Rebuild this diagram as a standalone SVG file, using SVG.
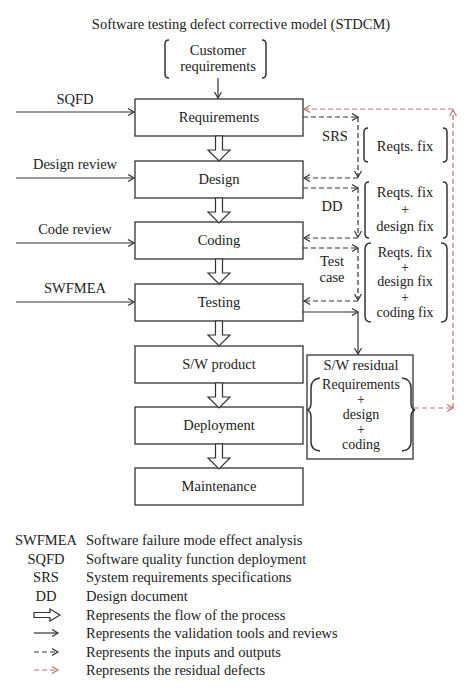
<svg xmlns="http://www.w3.org/2000/svg" width="474" height="696" viewBox="0 0 474 696">
<style>
text{font-family:"Liberation Serif","Times New Roman",serif;font-size:14.5px;fill:#222}
.c{text-anchor:middle}
.s{font-size:14px}
.box{fill:#fff;stroke:#333;stroke-width:1.3}
.ln{fill:none;stroke:#333;stroke-width:1.2}
.dash{fill:none;stroke:#333;stroke-width:1.2;stroke-dasharray:5 3}
.red{fill:none;stroke:#b87474;stroke-width:1.2;stroke-dasharray:5 3}
.brk{fill:none;stroke:#333;stroke-width:1.5}
.blk{fill:#fff;stroke:#333;stroke-width:1.2}
</style>
<defs>
<marker id="ah" markerUnits="userSpaceOnUse" markerWidth="10" markerHeight="10" refX="7" refY="4" orient="auto"><path d="M1,0.5 L7,4 L1,7.5" fill="none" stroke="#333" stroke-width="1.2"/></marker>
<marker id="ahr" markerUnits="userSpaceOnUse" markerWidth="10" markerHeight="10" refX="7" refY="4" orient="auto"><path d="M1,0.5 L7,4 L1,7.5" fill="none" stroke="#b87474" stroke-width="1.2"/></marker>
<path id="barrow" d="M-3.5,0 L3.5,0 L3.5,14 L11,14 L0,25 L-11,14 L-3.5,14 Z"/>
</defs>

<text class="c" x="241" y="29">Software testing defect corrective model (STDCM)</text>

<g id="customer">
<path class="brk" d="M169,40 Q165,40 165,44 L165,74 Q165,78 169,78"/>
<path class="brk" d="M262,40 Q266,40 266,44 L266,74 Q266,78 262,78"/>
<text class="c" x="218" y="55">Customer</text>
<text class="c" x="218" y="71">requirements</text>
</g>

<g id="requirements"><rect class="box" x="135" y="99" width="168" height="37"/><text class="c" x="219" y="122">Requirements</text></g>
<g id="design"><rect class="box" x="135" y="161" width="168" height="37"/><text class="c" x="219" y="184">Design</text></g>
<g id="coding"><rect class="box" x="135" y="222" width="168" height="37"/><text class="c" x="219" y="245">Coding</text></g>
<g id="testing"><rect class="box" x="135" y="284" width="168" height="37"/><text class="c" x="219" y="307">Testing</text></g>
<g id="swproduct"><rect class="box" x="135" y="346" width="168" height="37"/><text class="c" x="219" y="369">S/W product</text></g>
<g id="deployment"><rect class="box" x="135" y="407" width="168" height="37"/><text class="c" x="219" y="430">Deployment</text></g>
<g id="maintenance"><rect class="box" x="135" y="468" width="168" height="37"/><text class="c" x="219" y="491">Maintenance</text></g>

<g id="fix1">
<path class="brk" d="M368,128 Q364,128 364,132 L364,158 Q364,162 368,162"/>
<path class="brk" d="M443,128 Q447,128 447,132 L447,158 Q447,162 443,162"/>
<text class="c" x="405" y="151">Reqts. fix</text>
</g>
<g id="fix2">
<path class="brk" d="M369,182 Q365,182 365,186 L365,234 Q365,238 369,238"/>
<path class="brk" d="M443,182 Q447,182 447,186 L447,234 Q447,238 443,238"/>
<text class="c" x="405" y="197">Reqts. fix</text>
<text class="c" x="405" y="214">+</text>
<text class="c" x="405" y="231">design fix</text>
</g>
<g id="fix3">
<path class="brk" d="M371,243 Q365,243 365,249 L365,316 Q365,322 371,322"/>
<path class="brk" d="M441,243 Q447,243 447,249 L447,316 Q447,322 441,322"/>
<text class="c s" x="405" y="257">Reqts. fix</text>
<text class="c s" x="405" y="272">+</text>
<text class="c s" x="405" y="286">design fix</text>
<text class="c s" x="405" y="302">+</text>
<text class="c s" x="405" y="317">coding fix</text>
</g>

<g id="residual">
<rect class="box" x="307" y="355" width="106" height="104"/>
<text class="c" x="361" y="370">S/W residual</text>
<path class="brk" d="M320,378 Q311,379 311,388 L311,403 Q311,409 307,410 Q311,411 311,417 L311,442 Q311,450 320,451"/>
<path class="brk" d="M402,378 Q411,379 411,388 L411,403 Q411,409 415,410 Q411,411 411,417 L411,442 Q411,450 402,451"/>
<text class="c s" x="361" y="389">Requirements</text>
<text class="c s" x="361" y="404">+</text>
<text class="c s" x="361" y="419">design</text>
<text class="c s" x="361" y="434">+</text>
<text class="c s" x="361" y="449">coding</text>
</g>

<g id="labels">
<text class="c" x="75" y="104">SQFD</text>
<text class="c" x="75" y="169">Design review</text>
<text class="c" x="75" y="234">Code review</text>
<text class="c" x="75" y="293">SWFMEA</text>
<text class="c" x="335" y="141">SRS</text>
<text class="c" x="332" y="211">DD</text>
<text class="c" x="332" y="266">Test</text>
<text class="c" x="332" y="282">case</text>
</g>

<g id="connectors">
<line class="ln" x1="218" y1="78" x2="218" y2="98" marker-end="url(#ah)"/>
<use href="#barrow" class="blk" x="219" y="136"/>
<use href="#barrow" class="blk" x="219" y="198"/>
<use href="#barrow" class="blk" x="219" y="259"/>
<use href="#barrow" class="blk" x="219" y="321"/>
<use href="#barrow" class="blk" x="219" y="383"/>
<use href="#barrow" class="blk" x="219" y="444"/>

<line class="ln" x1="16" y1="112" x2="134" y2="112" marker-end="url(#ah)"/>
<line class="ln" x1="16" y1="178" x2="134" y2="178" marker-end="url(#ah)"/>
<line class="ln" x1="16" y1="243" x2="134" y2="243" marker-end="url(#ah)"/>
<line class="ln" x1="16" y1="302" x2="134" y2="302" marker-end="url(#ah)"/>

<line class="dash" x1="303" y1="117" x2="358" y2="117" marker-end="url(#ah)"/>
<line class="dash" x1="358" y1="117" x2="358" y2="177" marker-end="url(#ah)"/>
<line class="dash" x1="358" y1="178" x2="304" y2="178" marker-end="url(#ah)"/>
<line class="dash" x1="303" y1="188" x2="358" y2="188" marker-end="url(#ah)"/>
<line class="dash" x1="358" y1="188" x2="358" y2="237" marker-end="url(#ah)"/>
<line class="dash" x1="358" y1="238" x2="304" y2="238" marker-end="url(#ah)"/>
<line class="dash" x1="303" y1="248" x2="358" y2="248" marker-end="url(#ah)"/>
<line class="dash" x1="358" y1="248" x2="358" y2="300" marker-end="url(#ah)"/>
<line class="dash" x1="358" y1="301" x2="304" y2="301" marker-end="url(#ah)"/>
<line class="ln" x1="303" y1="312" x2="358" y2="312" marker-end="url(#ah)"/>
<line class="ln" x1="358" y1="312" x2="358" y2="354" marker-end="url(#ah)"/>

<line class="red" x1="414" y1="408" x2="453" y2="408" marker-end="url(#ahr)"/>
<line class="red" x1="453" y1="408" x2="453" y2="110" marker-end="url(#ahr)"/>
<line class="red" x1="453" y1="109" x2="304" y2="109" marker-end="url(#ahr)"/>
</g>

<g id="legend">
<text class="c" x="46" y="545">SWFMEA</text><text x="86" y="545">Software failure mode effect analysis</text>
<text class="c" x="46" y="564">SQFD</text><text x="86" y="564">Software quality function deployment</text>
<text class="c" x="46" y="582">SRS</text><text x="86" y="582">System requirements specifications</text>
<text class="c" x="46" y="601">DD</text><text x="86" y="601">Design document</text>
<path class="blk" d="M34,612.5 L50,612.5 L50,609 L60,615 L50,621 L50,617.5 L34,617.5 Z"/><text x="86" y="620">Represents the flow of the process</text>
<line class="ln" x1="34" y1="633" x2="58" y2="633" marker-end="url(#ah)"/><text x="86" y="638">Represents the validation tools and reviews</text>
<line class="dash" x1="34" y1="652" x2="58" y2="652" marker-end="url(#ah)"/><text x="86" y="657">Represents the inputs and outputs</text>
<line class="red" x1="34" y1="670" x2="58" y2="670" marker-end="url(#ahr)"/><text x="86" y="675">Represents the residual defects</text>
</g>
</svg>
